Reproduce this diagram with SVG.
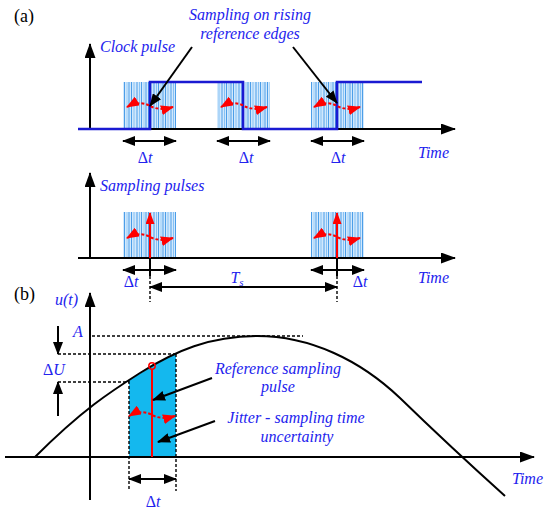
<svg xmlns="http://www.w3.org/2000/svg" width="550" height="512" viewBox="0 0 550 512" font-family="'Liberation Serif', 'DejaVu Serif', serif">
<defs>
<style>
text{font-family:'Liberation Serif','DejaVu Serif',serif}
.lbl{font-style:italic;font-size:16px;fill:#2323ee}
.pl{font-size:18px;fill:#000}
.ax{stroke:#000;stroke-width:2;fill:none}
.blk{stroke:#000;stroke-width:2;fill:none}
.dsh{stroke:#000;stroke-width:1.4;fill:none;stroke-dasharray:3 2}
.red{stroke:#ff0000;stroke-width:2;fill:none}
.rdd{stroke:#ff0000;stroke-width:2;fill:none;stroke-dasharray:3 2}
.clk{stroke:#1a1ad2;stroke-width:2.6;fill:none}
.hatch{fill:url(#hp)}
</style>
<pattern id="hp" patternUnits="userSpaceOnUse" width="17" height="10">
<rect width="17" height="10" fill="#d2e8fc"/>
<g stroke-width="1">
<line x1="1" y1="0" x2="1" y2="10" stroke="#4c9ee8"/>
<line x1="3.5" y1="0" x2="3.5" y2="10" stroke="#86c2f5"/>
<line x1="5.5" y1="0" x2="5.5" y2="10" stroke="#4c9ee8"/>
<line x1="8" y1="0" x2="8" y2="10" stroke="#9fd0f8"/>
<line x1="10" y1="0" x2="10" y2="10" stroke="#4c9ee8"/>
<line x1="12.5" y1="0" x2="12.5" y2="10" stroke="#4c9ee8"/>
<line x1="15" y1="0" x2="15" y2="10" stroke="#86c2f5"/>
</g>
</pattern>
<marker id="axh" markerUnits="userSpaceOnUse" markerWidth="15" markerHeight="11" refX="14" refY="5.5" orient="auto"><path d="M0 0 L15 5.5 L0 11 z" fill="#000"/></marker>
<marker id="bh" markerUnits="userSpaceOnUse" markerWidth="13" markerHeight="10" refX="12" refY="5" orient="auto-start-reverse"><path d="M0 0 L13 5 L0 10 z" fill="#000"/></marker>
<marker id="rh" markerUnits="userSpaceOnUse" markerWidth="12" markerHeight="9" refX="11" refY="4.5" orient="auto-start-reverse"><path d="M0 0 L12 4.5 L0 9 z" fill="#ff0000"/></marker>
<marker id="rj" markerUnits="userSpaceOnUse" markerWidth="13" markerHeight="10" refX="12" refY="5" orient="auto-start-reverse"><path d="M0 0 L13 5 L0 10 z" fill="#ff0000"/></marker>
<path id="jit" d="M-23 1 Q-11 -6 0 0 Q9 5 23 1" class="rdd" marker-start="url(#rj)" marker-end="url(#rj)"/>
</defs>

<text class="pl" x="14" y="22">(a)</text>
<text class="pl" x="14" y="300">(b)</text>

<!-- Panel a1: clock pulse -->
<g id="clock-panel">
<rect class="hatch" x="123" y="82" width="53" height="47"/>
<rect class="hatch" x="217" y="82" width="53" height="47"/>
<rect class="hatch" x="311" y="82" width="53" height="47"/>
<line class="ax" x1="90" y1="129" x2="90" y2="44" marker-end="url(#axh)"/>
<line class="ax" x1="78" y1="129" x2="455" y2="129" marker-end="url(#axh)"/>
<path class="clk" d="M78 129 H150 V82 H243 V129 H337 V82 H422"/>
<use href="#jit" x="150" y="106"/>
<use href="#jit" x="244" y="106"/>
<use href="#jit" x="337" y="106"/>
<text class="lbl" x="100" y="52">Clock pulse</text>
<text class="lbl" x="250" y="20" text-anchor="middle">Sampling on rising</text>
<text class="lbl" x="250" y="39" text-anchor="middle">reference edges</text>
<text class="lbl" x="449" y="158" text-anchor="end">Time</text>
</g>

<!-- Panel a2: sampling pulses -->
<g id="sampling-panel">
<rect class="hatch" x="123" y="212" width="53" height="46"/>
<rect class="hatch" x="311" y="212" width="53" height="46"/>
<line class="ax" x1="90" y1="258" x2="90" y2="173" marker-end="url(#axh)"/>
<line class="ax" x1="78" y1="258" x2="455" y2="258" marker-end="url(#axh)"/>
<line class="red" x1="150" y1="258" x2="150" y2="213" marker-end="url(#rh)"/>
<line class="red" x1="337" y1="258" x2="337" y2="213" marker-end="url(#rh)"/>
<use href="#jit" x="150" y="237"/>
<use href="#jit" x="337" y="237"/>
<text class="lbl" x="100" y="191">Sampling pulses</text>
<text class="lbl" x="449" y="283" text-anchor="end">Time</text>
<text class="lbl" x="237" y="283" text-anchor="middle">T<tspan font-size="11" dy="3">s</tspan></text>
</g>

<!-- Panel b -->
<g id="signal-panel">
<path d="M129 457 L129 380.2 C145 371 160 361 176 353 L176 457 Z" fill="#14b8ee"/>
<line class="ax" x1="90" y1="500" x2="90" y2="293" marker-end="url(#axh)"/>
<line class="ax" x1="5" y1="457" x2="534" y2="457" marker-end="url(#axh)"/>
<path class="blk" stroke-width="2.4" d="M35 457 C82 410 110 392 140 373 C175 351 210 336 257 336 C310 336 360 360 400 398 C435 432 465 460 505 496"/>
<line class="dsh" x1="92" y1="336" x2="303" y2="336"/>
<line class="dsh" x1="58" y1="354" x2="176" y2="354"/>
<line class="dsh" x1="58" y1="382" x2="129" y2="382"/>
<line class="dsh" x1="129" y1="381" x2="129" y2="491"/>
<line class="dsh" x1="176" y1="354" x2="176" y2="491"/>
<line class="red" x1="152" y1="369" x2="152" y2="457"/>
<circle cx="152" cy="366" r="3.2" fill="none" stroke="#ff0000" stroke-width="1.5"/>
<use href="#jit" x="152" y="415"/>
<text class="lbl" x="73" y="337">A</text>
<text class="lbl" x="43" y="375"><tspan font-style="normal">Δ</tspan>U</text>
<text class="lbl" x="55" y="305">u(t)</text>
<text class="lbl" x="278" y="374" text-anchor="middle">Reference sampling</text>
<text class="lbl" x="278" y="392" text-anchor="middle">pulse</text>
<text class="lbl" x="296" y="423" text-anchor="middle">Jitter - sampling time</text>
<text class="lbl" x="297" y="442" text-anchor="middle">uncertainty</text>
<text class="lbl" x="543" y="484" text-anchor="end">Time</text>
</g>

<!-- Delta t labels -->
<g id="dt-labels">
<text class="lbl" x="145" y="163" text-anchor="middle"><tspan font-style="normal">Δ</tspan>t</text>
<text class="lbl" x="246" y="163" text-anchor="middle"><tspan font-style="normal">Δ</tspan>t</text>
<text class="lbl" x="338" y="163" text-anchor="middle"><tspan font-style="normal">Δ</tspan>t</text>
<text class="lbl" x="131" y="287" text-anchor="middle"><tspan font-style="normal">Δ</tspan>t</text>
<text class="lbl" x="360" y="287" text-anchor="middle"><tspan font-style="normal">Δ</tspan>t</text>
<text class="lbl" x="153" y="507" text-anchor="middle"><tspan font-style="normal">Δ</tspan>t</text>
</g>

<g id="connectors">
<line class="blk" x1="192" y1="47" x2="150" y2="106" marker-end="url(#bh)"/>
<line class="blk" x1="293" y1="47" x2="337" y2="103" marker-end="url(#bh)"/>
<line class="blk" x1="123" y1="141" x2="176" y2="141" marker-start="url(#bh)" marker-end="url(#bh)"/>
<line class="blk" x1="217" y1="141" x2="270" y2="141" marker-start="url(#bh)" marker-end="url(#bh)"/>
<line class="blk" x1="311" y1="141" x2="364" y2="141" marker-start="url(#bh)" marker-end="url(#bh)"/>
<line class="blk" x1="123" y1="270" x2="176" y2="270" marker-start="url(#bh)" marker-end="url(#bh)"/>
<line class="blk" x1="311" y1="270" x2="364" y2="270" marker-start="url(#bh)" marker-end="url(#bh)"/>
<line class="blk" x1="150" y1="258" x2="150" y2="276"/>
<line class="blk" x1="337" y1="258" x2="337" y2="276"/>
<line class="dsh" x1="150" y1="276" x2="150" y2="302"/>
<line class="dsh" x1="337" y1="276" x2="337" y2="302"/>
<line class="blk" x1="150" y1="287" x2="337" y2="287" marker-start="url(#bh)" marker-end="url(#bh)"/>
<line class="blk" x1="58" y1="326" x2="58" y2="354" marker-end="url(#bh)"/>
<line class="blk" x1="58" y1="416" x2="58" y2="382" marker-end="url(#bh)"/>
<line class="blk" x1="212" y1="378" x2="153" y2="400" marker-end="url(#bh)"/>
<line class="blk" x1="215" y1="421" x2="158" y2="442" marker-end="url(#bh)"/>
<line class="blk" x1="129" y1="479" x2="176" y2="479" marker-start="url(#bh)" marker-end="url(#bh)"/>
</g>
</svg>
